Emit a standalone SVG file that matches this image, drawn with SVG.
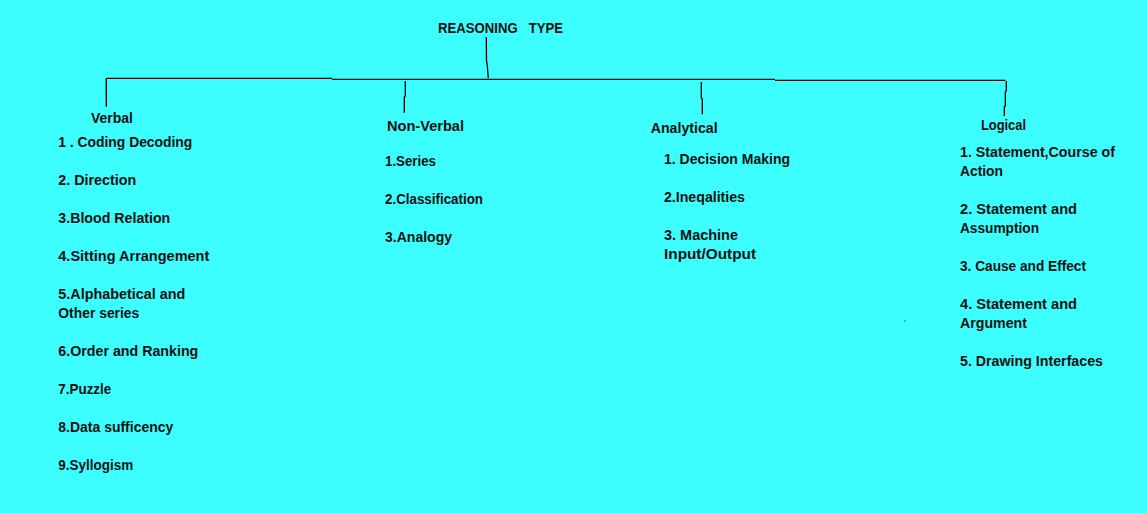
<svg xmlns="http://www.w3.org/2000/svg" width="1147" height="513" viewBox="0 0 1147 513">
<style>
text{font-family:"Liberation Sans",Arial,sans-serif;font-weight:bold;font-size:14px;fill:#111;}
.c line,.c polyline{stroke:#000;stroke-width:1.3;fill:none;}
</style>
<rect x="0" y="0" width="1147" height="513" fill="#3cfefe"/>
<g id="connectors" class="c">
<polyline points="486.3,37 486.5,61 487.3,66 488.3,78"/>
<line x1="106" y1="78.3" x2="332" y2="78.3"/>
<line x1="332" y1="79.3" x2="775" y2="79.3"/>
<line x1="775" y1="80.3" x2="1005.5" y2="80.3"/>
<line x1="106.3" y1="78" x2="106.3" y2="106.7"/>
<polyline points="405.3,81 405.3,96 404.3,97 404.3,112.7"/>
<polyline points="701.3,82 701.3,98 702.3,99 702.3,114.3"/>
<polyline points="1006.3,81 1006.3,91 1005.3,92 1005.3,106 1004.3,107 1004.3,116"/>
</g>
<rect x="904.5" y="320.5" width="1" height="1" fill="#000"/>
<g id="title">
<text x="438" y="33" xml:space="preserve" textLength="125" lengthAdjust="spacingAndGlyphs">REASONING   TYPE</text>
</g>
<g id="verbal">
<text x="91" y="123" textLength="42" lengthAdjust="spacingAndGlyphs">Verbal</text>
<text x="58.3" y="147" textLength="134" lengthAdjust="spacingAndGlyphs">1 . Coding Decoding</text>
<text x="58.3" y="185" textLength="78" lengthAdjust="spacingAndGlyphs">2. Direction</text>
<text x="58.3" y="223" textLength="112" lengthAdjust="spacingAndGlyphs">3.Blood Relation</text>
<text x="58.3" y="261" textLength="151" lengthAdjust="spacingAndGlyphs">4.Sitting Arrangement</text>
<text x="58.3" y="299" textLength="127" lengthAdjust="spacingAndGlyphs">5.Alphabetical and</text>
<text x="58.3" y="318" textLength="81" lengthAdjust="spacingAndGlyphs">Other series</text>
<text x="58.3" y="356" textLength="140" lengthAdjust="spacingAndGlyphs">6.Order and Ranking</text>
<text x="58.3" y="394" textLength="53" lengthAdjust="spacingAndGlyphs">7.Puzzle</text>
<text x="58.3" y="432" textLength="115" lengthAdjust="spacingAndGlyphs">8.Data sufficency</text>
<text x="58.3" y="470" textLength="75" lengthAdjust="spacingAndGlyphs">9.Syllogism</text>
</g>
<g id="non-verbal">
<text x="387" y="131" textLength="77" lengthAdjust="spacingAndGlyphs">Non-Verbal</text>
<text x="385" y="166" textLength="51" lengthAdjust="spacingAndGlyphs">1.Series</text>
<text x="385" y="204" textLength="98" lengthAdjust="spacingAndGlyphs">2.Classification</text>
<text x="385" y="242" textLength="67" lengthAdjust="spacingAndGlyphs">3.Analogy</text>
</g>
<g id="analytical">
<text x="650.7" y="133" textLength="67" lengthAdjust="spacingAndGlyphs">Analytical</text>
<text x="664" y="164" textLength="126" lengthAdjust="spacingAndGlyphs">1. Decision Making</text>
<text x="664" y="202" textLength="81" lengthAdjust="spacingAndGlyphs">2.Ineqalities</text>
<text x="664" y="240" textLength="74" lengthAdjust="spacingAndGlyphs">3. Machine</text>
<text x="664" y="259" textLength="92" lengthAdjust="spacingAndGlyphs">Input/Output</text>
</g>
<g id="logical">
<text x="981" y="130" textLength="45" lengthAdjust="spacingAndGlyphs">Logical</text>
<text x="960" y="157" textLength="155" lengthAdjust="spacingAndGlyphs">1. Statement,Course of</text>
<text x="960" y="176" textLength="43" lengthAdjust="spacingAndGlyphs">Action</text>
<text x="960" y="214" textLength="117" lengthAdjust="spacingAndGlyphs">2. Statement and</text>
<text x="960" y="233" textLength="79" lengthAdjust="spacingAndGlyphs">Assumption</text>
<text x="960" y="271" textLength="126" lengthAdjust="spacingAndGlyphs">3. Cause and Effect</text>
<text x="960" y="309" textLength="117" lengthAdjust="spacingAndGlyphs">4. Statement and</text>
<text x="960" y="328" textLength="67" lengthAdjust="spacingAndGlyphs">Argument</text>
<text x="960" y="366" textLength="143" lengthAdjust="spacingAndGlyphs">5. Drawing Interfaces</text>
</g>
</svg>
